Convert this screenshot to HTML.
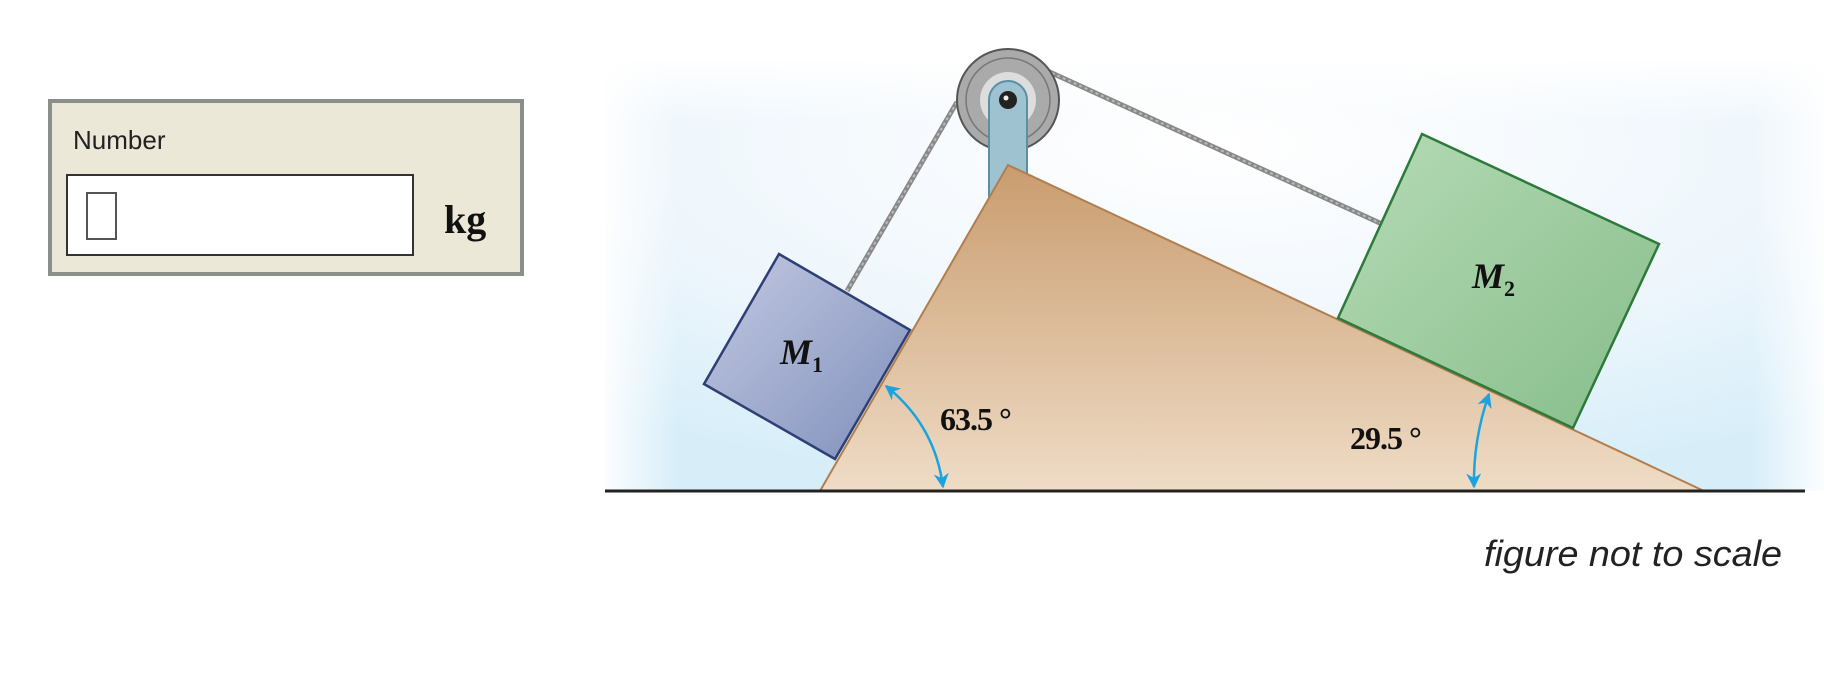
<!DOCTYPE html>
<html><head><meta charset="utf-8"><style>
html,body{margin:0;padding:0;background:#fff;}
body{width:1824px;height:694px;overflow:hidden;position:relative;}
</style></head><body>
<svg width="1824" height="694" viewBox="0 0 1824 694" xmlns="http://www.w3.org/2000/svg" style="position:absolute;left:0;top:0">
<defs>
<radialGradient id="bg" cx="0.5" cy="0.2" r="0.8">
<stop offset="0" stop-color="#ffffff"/><stop offset="0.6" stop-color="#eef6fc"/><stop offset="1" stop-color="#d7eef9"/>
</radialGradient>
<linearGradient id="bgfade" x1="0" y1="0" x2="0" y2="1">
<stop offset="0" stop-color="#fff" stop-opacity="1"/><stop offset="0.15" stop-color="#fff" stop-opacity="0"/>
</linearGradient>
<linearGradient id="bgside" x1="0" y1="0" x2="1" y2="0">
<stop offset="0" stop-color="#fff" stop-opacity="0.9"/><stop offset="0.06" stop-color="#fff" stop-opacity="0"/>
<stop offset="0.94" stop-color="#fff" stop-opacity="0"/><stop offset="1" stop-color="#fff" stop-opacity="0.9"/>
</linearGradient>
<linearGradient id="tri" x1="0" y1="0" x2="0" y2="1">
<stop offset="0" stop-color="#c99c6e"/><stop offset="1" stop-color="#efdcc6"/>
</linearGradient>
<linearGradient id="m1" x1="0" y1="0" x2="1" y2="1">
<stop offset="0" stop-color="#c3c9e2"/><stop offset="1" stop-color="#7f8fbb"/>
</linearGradient>
<linearGradient id="m2" x1="0" y1="0" x2="1" y2="1">
<stop offset="0" stop-color="#b6dbb6"/><stop offset="1" stop-color="#86bd8a"/>
</linearGradient>
<marker id="ar" viewBox="0 0 10 10" refX="9" refY="5" markerWidth="6" markerHeight="6" orient="auto-start-reverse">
<path d="M0,0 L10,5 L0,10 L3,5 z" fill="#1ba3e0"/>
</marker>
</defs>
<rect x="50" y="101" width="472" height="173" fill="#ece8d8" stroke="#8a8f8a" stroke-width="4"/>
<text x="73" y="149" font-family="Liberation Sans, sans-serif" font-size="26" fill="#222">Number</text>
<rect x="67" y="175" width="346" height="80" fill="#fff" stroke="#333" stroke-width="2"/>
<rect x="87" y="193" width="29" height="46" fill="#fff" stroke="#555" stroke-width="2"/>
<text x="444" y="233" font-family="Liberation Serif, serif" font-weight="bold" font-size="40" fill="#111">kg</text>
<rect x="605" y="58" width="1219" height="433" fill="url(#bg)"/>
<rect x="605" y="58" width="1219" height="433" fill="url(#bgfade)"/>
<rect x="605" y="58" width="1219" height="433" fill="url(#bgside)"/>
<line x1="957" y1="102" x2="847" y2="291" stroke="#888" stroke-width="5"/>
<line x1="957" y1="102" x2="847" y2="291" stroke="#bbb" stroke-width="2" stroke-dasharray="3 3"/>
<line x1="1030" y1="63" x2="1382" y2="224" stroke="#888" stroke-width="5"/>
<line x1="1030" y1="63" x2="1382" y2="224" stroke="#bbb" stroke-width="2" stroke-dasharray="3 3"/>
<circle cx="1008" cy="100" r="51" fill="#aaa" stroke="#555" stroke-width="2"/>
<circle cx="1008" cy="100" r="42" fill="none" stroke="#777" stroke-width="1.5"/>
<circle cx="1008" cy="100" r="28" fill="#ddd"/>
<path d="M989,100 a19,19 0 0 1 38,0 L1027,200 L989,200 z" fill="#9fc2d1" stroke="#5c8ea6" stroke-width="2"/>
<circle cx="1008" cy="100" r="9" fill="#222"/>
<circle cx="1006" cy="98" r="2.5" fill="#eee"/>
<polygon points="820,491 1008,165 1704,491" fill="url(#tri)" stroke="#b07e4f" stroke-width="2"/>
<polygon points="779,254 910,330 835,459 704,384" fill="url(#m1)" stroke="#2e3f75" stroke-width="2.5"/>
<polygon points="1422,134 1659,244 1573,428 1338,318" fill="url(#m2)" stroke="#2d7a3a" stroke-width="2.5"/>
<text x="780" y="364" font-family="Liberation Serif, serif" font-style="italic" font-weight="bold" font-size="36" fill="#111">M<tspan font-size="22" font-style="normal" dy="8">1</tspan></text>
<text x="1472" y="288" font-family="Liberation Serif, serif" font-style="italic" font-weight="bold" font-size="36" fill="#111">M<tspan font-size="22" font-style="normal" dy="8">2</tspan></text>
<line x1="605" y1="491" x2="1805" y2="491" stroke="#222" stroke-width="3"/>
<path d="M886,386 Q935,425 943,487" fill="none" stroke="#1ba3e0" stroke-width="2.5" marker-start="url(#ar)" marker-end="url(#ar)"/>
<path d="M1489,394 Q1473,440 1474,487" fill="none" stroke="#1ba3e0" stroke-width="2.5" marker-start="url(#ar)" marker-end="url(#ar)"/>
<text x="940" y="430" font-family="Liberation Serif, serif" font-weight="bold" font-size="32" fill="#111" letter-spacing="-1">63.5 °</text>
<text x="1350" y="449" font-family="Liberation Serif, serif" font-weight="bold" font-size="32" fill="#111" letter-spacing="-1">29.5 °</text>
<text x="1782" y="566" text-anchor="end" font-family="Liberation Sans, sans-serif" font-style="italic" font-size="36" fill="#222" textLength="298" lengthAdjust="spacingAndGlyphs">figure not to scale</text>
</svg>
</body></html>
